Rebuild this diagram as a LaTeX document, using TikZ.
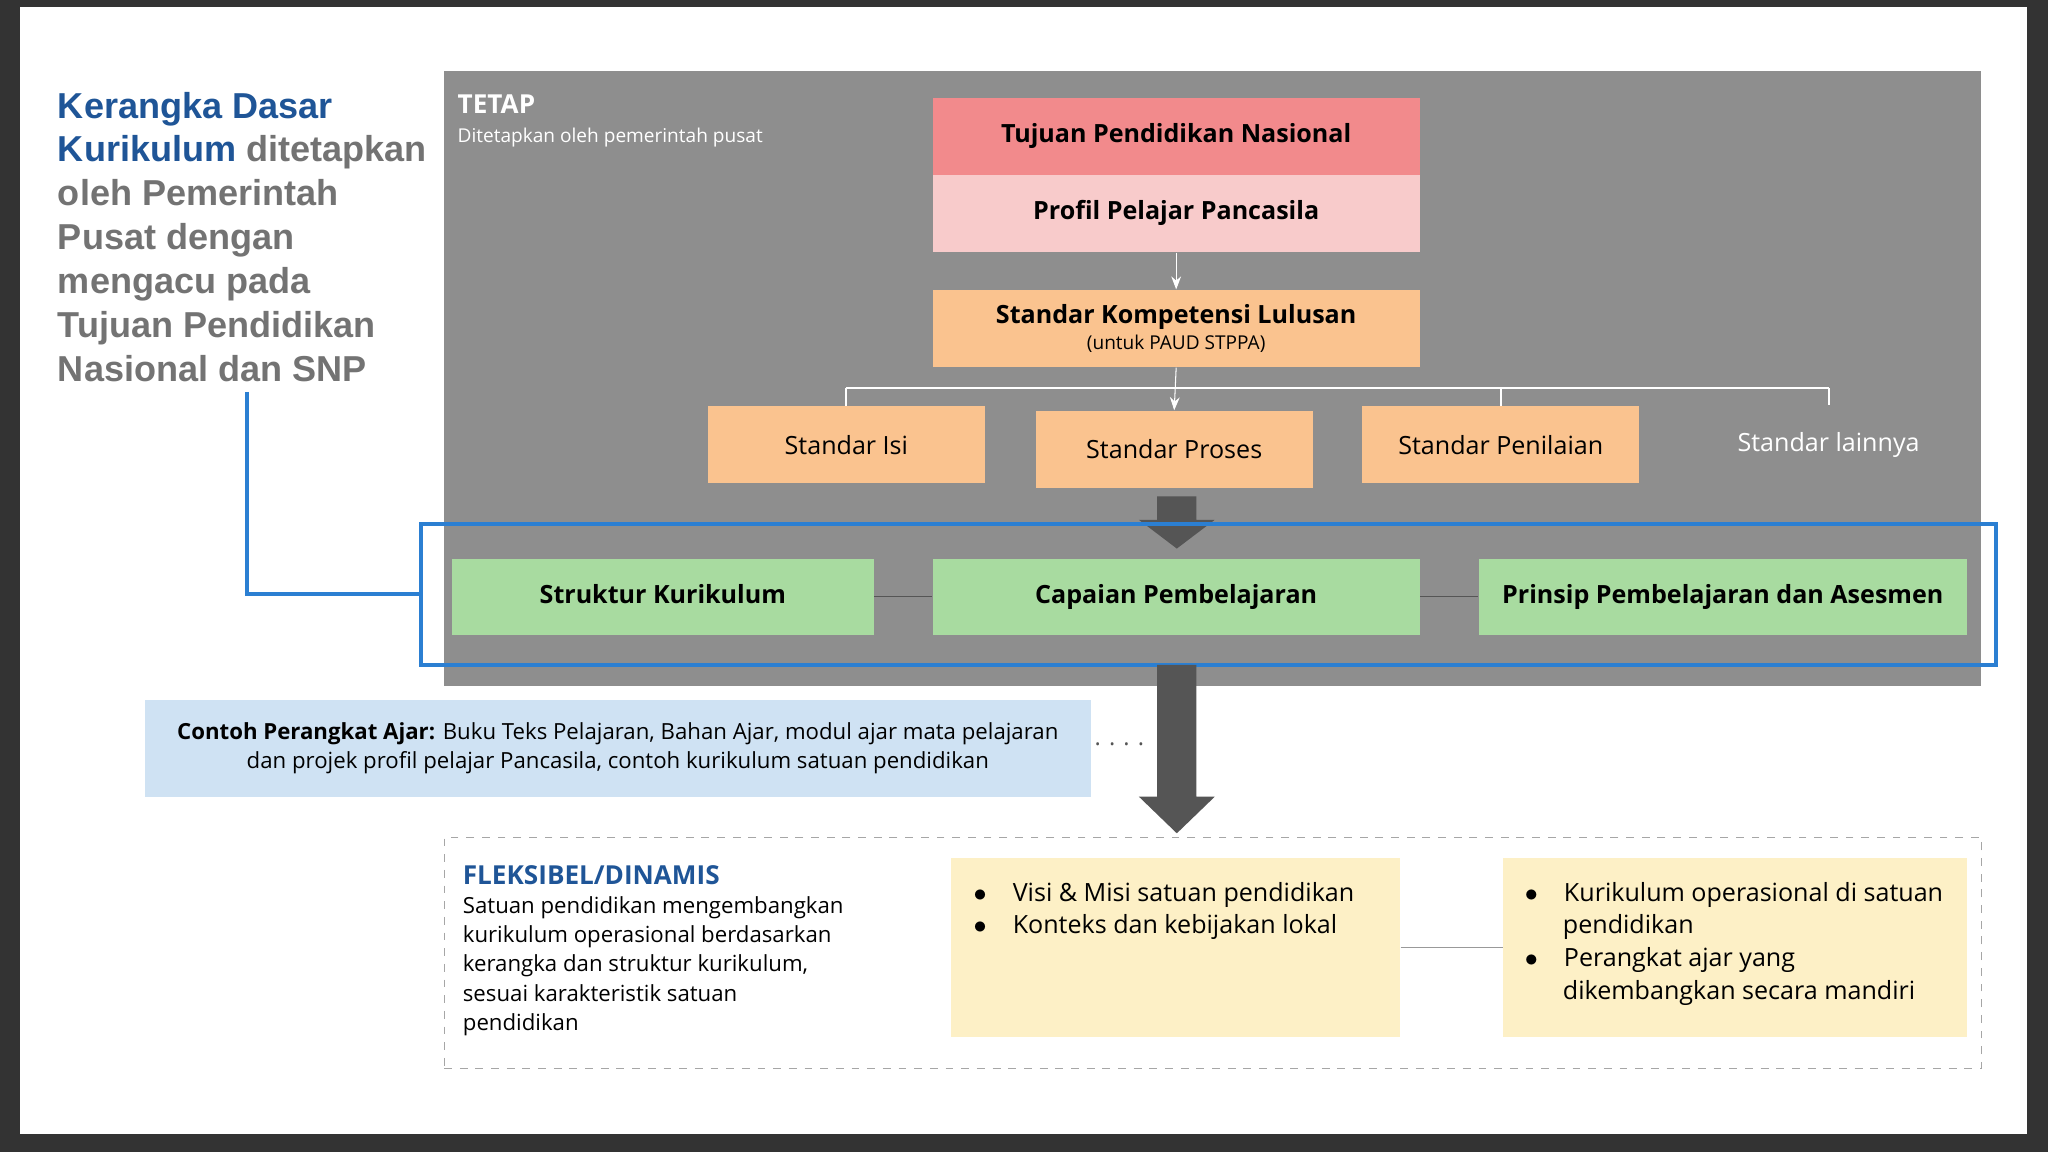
\documentclass[tikz,border=0pt]{standalone}
\usepackage{fontspec}
\setmainfont{Open Sans}
\newfontfamily\arialf{Liberation Sans}
\usetikzlibrary{arrows.meta}
\definecolor{panel}{HTML}{8E8E8E}
\definecolor{tred}{HTML}{F28A8C}
\definecolor{tpink}{HTML}{F8CBCB}
\definecolor{peach}{HTML}{FAC38F}
\definecolor{green1}{HTML}{A8DBA0}
\definecolor{bluel}{HTML}{2B7FD2}
\definecolor{lblue}{HTML}{CFE2F3}
\definecolor{yel}{HTML}{FDF0C6}
\definecolor{navy}{HTML}{1F5597}
\definecolor{darkg}{HTML}{555555}
\begin{document}
\begin{tikzpicture}[x=0.5pt,y=-0.5pt,
 pbox/.style={fill=peach,draw=none,minimum height=29.5pt,font=\fontsize{9.6}{12}\selectfont},
 gbox/.style={fill=green1,minimum height=29pt,text depth=0.25em,font=\bfseries\fontsize{9.6}{12}\selectfont},
 ybox/.style={fill=yel,minimum width=172pt,minimum height=68.5pt}]
\useasboundingbox (0,0) rectangle (1568,882);
\fill[black!80] (0,0) rectangle (1568,882);
\fill[white] (15,5) rectangle (1552,868);
\fill[panel] (340,54) rectangle (1517,525);
\node[anchor=west,text=white,font=\bfseries\fontsize{10}{12}\selectfont,inner sep=0pt] (tetap) at (350,80) {TETAP};
\node[anchor=west,text=white,font=\fontsize{7.3}{9}\selectfont,inner sep=0pt] (tetap2) at (350,105) {Ditetapkan oleh pemerintah pusat};
\node[fill=tred,minimum width=186.5pt,minimum height=29.5pt,text depth=0.25em,font=\bfseries\fontsize{9.6}{12}\selectfont] (tpn) at (900.5,104.5) {Tujuan Pendidikan Nasional};
\node[fill=tpink,minimum width=186.5pt,minimum height=29.5pt,text depth=0.25em,font=\bfseries\fontsize{9.6}{12}\selectfont] (ppp) at (900.5,163.5) {Profil Pelajar Pancasila};
\node[pbox,minimum width=186.5pt,align=center] (skl) at (900.5,251.5) {\textbf{Standar Kompetensi Lulusan}\\[-2pt]{\fontsize{7.3}{9}\selectfont (untuk PAUD STPPA)}};
\draw[white,-{Stealth[length=5pt]}] (ppp.south) -- (skl.north);
\node[pbox,minimum width=106pt] (si) at (648,340.5) {Standar Isi};
\node[pbox,minimum width=106pt] (sp) at (899,344) {Standar Proses};
\node[pbox,minimum width=106pt] (spn) at (1149,340.5) {Standar Penilaian};
\node[text=white,font=\fontsize{9.6}{12}\selectfont] (sl) at (1400,341) {Standar lainnya};
\coordinate (h1) at (648,297);
\coordinate (h4) at (1400,297);
\draw[white,thick] (h1) -- (h4);
\draw[white,thick] (h1) -- (si.north);
\draw[white,thick] (1149,297) -- (spn.north);
\draw[white,thick] (h4) -- (1400,310);
\draw[white,-{Stealth[length=5pt]}] (skl.south) -- (sp.north);
\fill[darkg] (886,380) -- (916,380) -- (916,398) -- (930,398) -- (901,420) -- (872,398) -- (886,398) -- cycle;
\node[gbox,minimum width=161.5pt] (sk) at (507.5,457) {Struktur Kurikulum};
\node[gbox,minimum width=186.5pt] (cp) at (900.5,457) {Capaian Pembelajaran};
\node[gbox,minimum width=187pt] (pr) at (1319,457) {Prinsip Pembelajaran dan Asesmen};
\draw[darkg] (sk) -- (cp); \draw[darkg] (cp) -- (pr);
\node[draw=bluel,line width=1.5pt,minimum width=603pt,minimum height=54pt] (blue) at (925,455) {};
\node[anchor=north west,align=left,font=\arialf\bfseries\fontsize{13.8}{16.8}\selectfont,text=black!55,inner sep=0pt] (lt) at (44,70) {\textcolor{navy}{Kerangka Dasar}\\\textcolor{navy}{Kurikulum} ditetapkan\\oleh Pemerintah\\Pusat dengan\\mengacu pada\\Tujuan Pendidikan\\Nasional dan SNP};
\coordinate (lb) at (189,300);
\draw[bluel,line width=1.5pt] (lb) |- (blue.west);
\fill[darkg] (886,509) -- (916,509) -- (916,610) -- (930,610) -- (901,638) -- (872,610) -- (886,610) -- cycle;
\node[fill=lblue,minimum width=362pt,minimum height=37pt,align=center,font=\fontsize{8.5}{11}\selectfont] (ct) at (473,573) {\textbf{Contoh Perangkat Ajar:} Buku Teks Pelajaran, Bahan Ajar, modul ajar mata pelajaran\\dan projek profil pelajar Pancasila, contoh kurikulum satuan pendidikan};
\node[font=\fontsize{9}{10}\selectfont,text=darkg] (dots) at (857,570) {. . . .};
\node[draw=black!35,dashed,minimum width=588.5pt,minimum height=88.5pt] (flex) at (928.5,729.5) {};
\node[anchor=west,text=navy,font=\bfseries\fontsize{10}{12}\selectfont,inner sep=0pt] (fl) at (354,670) {FLEKSIBEL/DINAMIS};
\node[anchor=north west,align=left,inner sep=0pt,font=\fontsize{8.5}{11.2}\selectfont] (fp) at (354,686) {Satuan pendidikan mengembangkan\\kurikulum operasional berdasarkan\\kerangka dan struktur kurikulum,\\sesuai karakteristik satuan\\pendidikan};
\node[ybox] (y1) at (900,725.5) {};
\node[ybox,minimum width=177.5pt] (y2) at (1328.5,725.5) {};
\draw[black!40] (y1) -- (y2);
\node[anchor=north west,align=left,inner sep=0pt,font=\fontsize{9.6}{12.5}\selectfont] (y1t) at (745,675) {$\bullet$\hspace{10pt}Visi \& Misi satuan pendidikan\\$\bullet$\hspace{10pt}Konteks dan kebijakan lokal};
\node[anchor=north west,align=left,inner sep=0pt,font=\fontsize{9.6}{12.5}\selectfont] (y2t) at (1167,675) {$\bullet$\hspace{10pt}Kurikulum operasional di satuan\\\hspace{14.6pt}pendidikan\\$\bullet$\hspace{10pt}Perangkat ajar yang\\\hspace{14.6pt}dikembangkan secara mandiri};
\end{tikzpicture}
\end{document}
